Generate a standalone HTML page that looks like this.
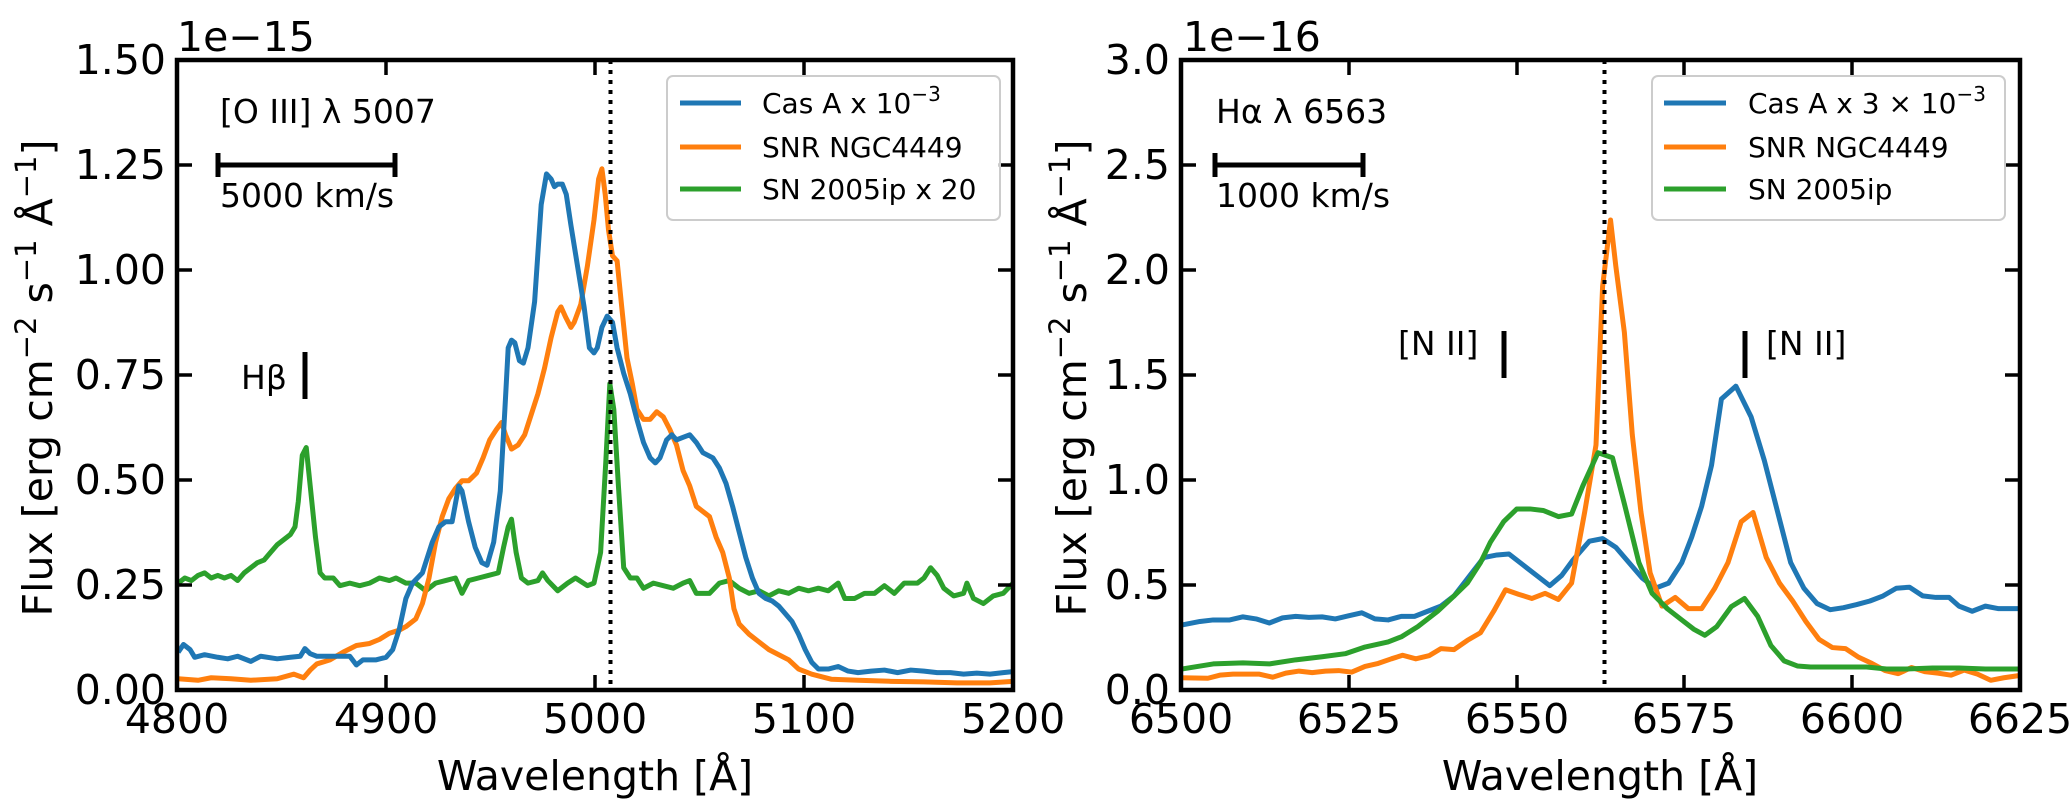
<!DOCTYPE html>
<html><head><meta charset="utf-8"><style>
html,body{margin:0;padding:0;background:#fff;}
svg{display:block;font-family:"DejaVu Sans","Liberation Sans",sans-serif;}
</style></head><body>
<svg width="2070" height="802" viewBox="0 0 2070 802" xmlns="http://www.w3.org/2000/svg">
<defs>
<clipPath id="cl"><rect x="177" y="60" width="836" height="630"/></clipPath>
<clipPath id="cr"><rect x="1181" y="60" width="839" height="630"/></clipPath>
</defs>
<rect width="2070" height="802" fill="#fff"/>

<g clip-path="url(#cl)">
<g transform="scale(0.660,0.5115)" fill="none" stroke-width="5" stroke-linejoin="round">
<polyline vector-effect="non-scaling-stroke" stroke="#2ca02c" points="270,1140 280,1130 290,1135 300,1125 310,1120 320,1130 330,1125 340,1130 350,1125 360,1135 370,1120 380,1110 390,1100 400,1095 410,1080 420,1065 430,1055 440,1045 447,1030 452,980 458,890 464,875 470,950 478,1050 485,1120 492,1130 505,1130 515,1145 530,1140 545,1145 560,1140 575,1130 590,1135 600,1130 615,1140 630,1140 645,1155 660,1140 675,1135 690,1130 700,1160 710,1135 725,1130 740,1125 755,1120 763,1070 770,1030 775,1015 782,1080 790,1130 800,1140 815,1135 822,1120 830,1135 845,1155 860,1140 872,1130 890,1145 900,1140 910,1080 918,900 924,750 930,800 937,950 945,1110 955,1130 965,1130 975,1150 990,1140 1005,1145 1020,1150 1035,1140 1045,1135 1055,1160 1075,1160 1090,1140 1105,1135 1120,1150 1135,1160 1150,1155 1165,1165 1180,1155 1195,1160 1210,1150 1225,1155 1240,1150 1255,1155 1270,1140 1280,1170 1295,1170 1310,1160 1325,1160 1340,1145 1355,1160 1370,1140 1390,1140 1400,1130 1410,1110 1420,1125 1430,1150 1445,1165 1460,1160 1465,1140 1475,1170 1490,1180 1505,1165 1520,1160 1535,1140"/>
<polyline vector-effect="non-scaling-stroke" stroke="#ff7f0e" points="270,1327 300,1330 320,1325 350,1327 380,1330 420,1327 445,1318 460,1325 470,1310 480,1298 500,1290 520,1275 540,1262 560,1258 575,1250 590,1238 605,1232 615,1225 630,1210 640,1180 650,1130 660,1060 670,1010 680,975 690,955 700,940 710,940 722,925 732,895 742,860 752,840 760,826 766,850 775,878 785,870 795,850 805,810 815,770 825,720 835,660 845,610 850,600 857,620 865,640 870,630 880,595 890,520 900,430 907,350 912,330 917,380 922,450 928,500 935,510 942,600 950,700 958,750 965,800 975,820 985,820 995,805 1005,815 1015,840 1025,870 1035,920 1045,950 1055,990 1065,1000 1075,1010 1085,1050 1095,1080 1105,1130 1112,1190 1120,1220 1135,1240 1150,1255 1165,1270 1180,1280 1195,1290 1210,1308 1230,1318 1260,1328 1300,1330 1350,1332 1400,1333 1450,1335 1500,1335 1535,1332"/>
<polyline vector-effect="non-scaling-stroke" stroke="#1f77b4" points="270,1275 278,1260 288,1270 295,1285 310,1280 330,1285 345,1288 360,1283 380,1293 395,1283 420,1288 440,1285 455,1283 462,1268 470,1278 480,1283 500,1283 530,1283 540,1300 550,1290 570,1290 585,1285 595,1270 605,1230 615,1170 625,1140 640,1120 655,1060 665,1030 675,1020 685,1020 695,950 700,960 710,1020 720,1070 730,1100 738,1105 748,1060 758,960 765,800 770,680 775,665 780,670 787,705 793,710 800,680 810,590 820,400 828,340 835,350 840,365 845,360 852,360 858,380 865,440 875,520 885,600 893,680 900,690 905,680 912,640 920,618 928,630 935,680 945,730 955,770 965,820 975,865 985,895 993,905 1000,895 1010,860 1018,850 1025,860 1035,855 1045,850 1055,865 1065,885 1080,895 1090,915 1100,945 1110,990 1120,1040 1130,1090 1140,1130 1150,1160 1160,1170 1170,1175 1180,1185 1190,1200 1200,1215 1210,1240 1220,1270 1230,1295 1240,1308 1255,1308 1270,1303 1285,1312 1300,1315 1320,1312 1340,1310 1360,1315 1380,1310 1400,1312 1420,1315 1440,1315 1460,1318 1480,1316 1500,1318 1520,1315 1535,1313"/>
</g>
</g>
<line x1="610.5" y1="60" x2="610.5" y2="690" stroke="#000" stroke-width="4" stroke-dasharray="4,6"/>

<g clip-path="url(#cr)">
<g transform="translate(1035,0) scale(0.660,0.5115)" fill="none" stroke-width="5" stroke-linejoin="round">
<polyline vector-effect="non-scaling-stroke" stroke="#1f77b4" points="222,1222 250,1215 270,1212 295,1212 315,1206 335,1210 355,1218 375,1208 395,1205 415,1207 435,1206 455,1210 475,1204 495,1198 515,1210 535,1212 555,1205 575,1205 595,1195 615,1185 635,1165 650,1140 665,1115 680,1090 700,1085 718,1083 740,1105 760,1125 780,1145 798,1125 815,1095 840,1058 860,1053 880,1070 900,1100 920,1130 940,1150 960,1140 980,1100 995,1050 1010,990 1025,910 1040,780 1062,755 1085,815 1105,900 1125,1000 1145,1100 1165,1150 1185,1180 1205,1192 1225,1188 1245,1182 1265,1175 1285,1165 1305,1150 1325,1148 1345,1165 1365,1168 1385,1168 1400,1185 1420,1195 1440,1185 1460,1190 1495,1190"/>
<polyline vector-effect="non-scaling-stroke" stroke="#ff7f0e" points="222,1325 262,1326 280,1320 300,1318 320,1318 340,1318 360,1324 380,1316 400,1312 420,1315 440,1312 460,1311 480,1314 500,1303 520,1297 540,1288 557,1281 577,1288 597,1282 615,1268 635,1270 655,1252 675,1237 695,1195 713,1153 733,1162 753,1170 773,1160 793,1172 813,1140 833,1000 850,870 860,560 872,430 880,520 893,650 905,850 918,1000 932,1120 950,1185 970,1168 990,1190 1010,1190 1030,1150 1050,1100 1070,1020 1088,1002 1108,1090 1128,1140 1148,1175 1168,1215 1188,1250 1208,1266 1228,1268 1248,1285 1268,1297 1288,1311 1308,1317 1328,1305 1348,1313 1368,1316 1388,1320 1408,1310 1428,1318 1448,1330 1468,1325 1495,1320"/>
<polyline vector-effect="non-scaling-stroke" stroke="#2ca02c" points="222,1308 270,1298 315,1296 355,1298 395,1290 435,1284 470,1278 500,1265 535,1255 555,1245 580,1225 610,1195 635,1165 655,1140 675,1100 690,1060 710,1020 730,995 750,995 770,998 793,1010 813,1005 830,950 853,885 875,895 893,985 915,1100 935,1160 958,1190 978,1210 998,1230 1015,1242 1033,1225 1055,1186 1075,1170 1095,1205 1115,1262 1135,1292 1155,1302 1175,1304 1200,1304 1230,1304 1260,1304 1290,1308 1320,1308 1360,1306 1400,1306 1440,1308 1495,1308"/>
</g>
</g>
<line x1="1604.5" y1="60" x2="1604.5" y2="690" stroke="#000" stroke-width="4" stroke-dasharray="4,6"/>

<g stroke="#000" stroke-width="3.5">
<line x1="386" y1="60" x2="386" y2="75"/><line x1="595" y1="60" x2="595" y2="75"/><line x1="804" y1="60" x2="804" y2="75"/>
<line x1="386" y1="690" x2="386" y2="675"/><line x1="595" y1="690" x2="595" y2="675"/><line x1="804" y1="690" x2="804" y2="675"/>
<line x1="177" y1="165" x2="192" y2="165"/><line x1="177" y1="270" x2="192" y2="270"/><line x1="177" y1="375" x2="192" y2="375"/><line x1="177" y1="480" x2="192" y2="480"/><line x1="177" y1="585" x2="192" y2="585"/>
<line x1="1013" y1="165" x2="998" y2="165"/><line x1="1013" y1="270" x2="998" y2="270"/><line x1="1013" y1="375" x2="998" y2="375"/><line x1="1013" y1="480" x2="998" y2="480"/><line x1="1013" y1="585" x2="998" y2="585"/>
</g>
<rect x="177" y="60" width="836" height="630" fill="none" stroke="#000" stroke-width="4.5"/>

<g font-size="41" fill="#000" text-anchor="end">
<text x="166" y="74">1.50</text><text x="166" y="179">1.25</text><text x="166" y="284">1.00</text><text x="166" y="389">0.75</text><text x="166" y="494">0.50</text><text x="166" y="599">0.25</text><text x="166" y="704">0.00</text>
</g>
<g font-size="41" fill="#000" text-anchor="middle">
<text x="177" y="733">4800</text><text x="386" y="733">4900</text><text x="595" y="733">5000</text><text x="804" y="733">5100</text><text x="1013" y="733">5200</text>
<text x="595" y="790">Wavelength [Å]</text>
</g>
<text x="177" y="51" font-size="41">1e−15</text>
<text transform="translate(52,378) rotate(-90)" font-size="41" text-anchor="middle">Flux [erg cm<tspan dy="-16" font-size="29">−2</tspan><tspan dy="16"> s</tspan><tspan dy="-16" font-size="29">−1</tspan><tspan dy="16"> Å</tspan><tspan dy="-16" font-size="29">−1</tspan><tspan dy="16">]</tspan></text>

<text x="220" y="123" font-size="33">[O III] λ 5007</text>
<g stroke="#000" stroke-width="5"><line x1="218" y1="165" x2="395" y2="165"/><line x1="218" y1="153" x2="218" y2="177"/><line x1="395" y1="153" x2="395" y2="177"/><line x1="305" y1="352" x2="305" y2="399"/></g>
<text x="220" y="207" font-size="33">5000 km/s</text>
<text x="241" y="389" font-size="33">Hβ</text>

<rect x="667" y="76" width="333" height="144" rx="6" fill="#fff" fill-opacity="0.8" stroke="#ccc" stroke-width="2"/>
<g stroke-width="5"><line x1="680" y1="103" x2="741" y2="103" stroke="#1f77b4"/><line x1="680" y1="147" x2="741" y2="147" stroke="#ff7f0e"/><line x1="680" y1="189" x2="741" y2="189" stroke="#2ca02c"/></g>
<g font-size="28" fill="#000">
<text x="762" y="113">Cas A x 10<tspan dy="-12" font-size="20">−3</tspan></text>
<text x="762" y="157">SNR NGC4449</text>
<text x="762" y="199">SN 2005ip x 20</text>
</g>

<g stroke="#000" stroke-width="3.5">
<line x1="1349" y1="60" x2="1349" y2="75"/><line x1="1517" y1="60" x2="1517" y2="75"/><line x1="1684" y1="60" x2="1684" y2="75"/><line x1="1852" y1="60" x2="1852" y2="75"/>
<line x1="1349" y1="690" x2="1349" y2="675"/><line x1="1517" y1="690" x2="1517" y2="675"/><line x1="1684" y1="690" x2="1684" y2="675"/><line x1="1852" y1="690" x2="1852" y2="675"/>
<line x1="1181" y1="165" x2="1196" y2="165"/><line x1="1181" y1="270" x2="1196" y2="270"/><line x1="1181" y1="375" x2="1196" y2="375"/><line x1="1181" y1="480" x2="1196" y2="480"/><line x1="1181" y1="585" x2="1196" y2="585"/>
<line x1="2020" y1="165" x2="2005" y2="165"/><line x1="2020" y1="270" x2="2005" y2="270"/><line x1="2020" y1="375" x2="2005" y2="375"/><line x1="2020" y1="480" x2="2005" y2="480"/><line x1="2020" y1="585" x2="2005" y2="585"/>
</g>
<rect x="1181" y="60" width="839" height="630" fill="none" stroke="#000" stroke-width="4.5"/>

<g font-size="41" fill="#000" text-anchor="end">
<text x="1170" y="74">3.0</text><text x="1170" y="179">2.5</text><text x="1170" y="284">2.0</text><text x="1170" y="389">1.5</text><text x="1170" y="494">1.0</text><text x="1170" y="599">0.5</text><text x="1170" y="704">0.0</text>
</g>
<g font-size="41" fill="#000" text-anchor="middle">
<text x="1181" y="733">6500</text><text x="1349" y="733">6525</text><text x="1517" y="733">6550</text><text x="1684" y="733">6575</text><text x="1852" y="733">6600</text><text x="2020" y="733">6625</text>
<text x="1600" y="790">Wavelength [Å]</text>
</g>
<text x="1183" y="51" font-size="41">1e−16</text>
<text transform="translate(1086,378) rotate(-90)" font-size="41" text-anchor="middle">Flux [erg cm<tspan dy="-16" font-size="29">−2</tspan><tspan dy="16"> s</tspan><tspan dy="-16" font-size="29">−1</tspan><tspan dy="16"> Å</tspan><tspan dy="-16" font-size="29">−1</tspan><tspan dy="16">]</tspan></text>

<text x="1216" y="123" font-size="33">Hα λ 6563</text>
<g stroke="#000" stroke-width="5"><line x1="1215" y1="165" x2="1363" y2="165"/><line x1="1215" y1="153" x2="1215" y2="177"/><line x1="1363" y1="153" x2="1363" y2="177"/><line x1="1504" y1="331" x2="1504" y2="378"/><line x1="1745" y1="331" x2="1745" y2="378"/></g>
<text x="1216" y="207" font-size="33">1000 km/s</text>
<text x="1398" y="355" font-size="33">[N II]</text>
<text x="1766" y="355" font-size="33">[N II]</text>

<rect x="1652" y="76" width="353" height="144" rx="6" fill="#fff" fill-opacity="0.8" stroke="#ccc" stroke-width="2"/>
<g stroke-width="5"><line x1="1664" y1="103" x2="1726" y2="103" stroke="#1f77b4"/><line x1="1664" y1="147" x2="1726" y2="147" stroke="#ff7f0e"/><line x1="1664" y1="189" x2="1726" y2="189" stroke="#2ca02c"/></g>
<g font-size="28" fill="#000">
<text x="1748" y="113">Cas A x 3 × 10<tspan dy="-12" font-size="20">−3</tspan></text>
<text x="1748" y="157">SNR NGC4449</text>
<text x="1748" y="199">SN 2005ip</text>
</g>
</svg>
</body></html>
